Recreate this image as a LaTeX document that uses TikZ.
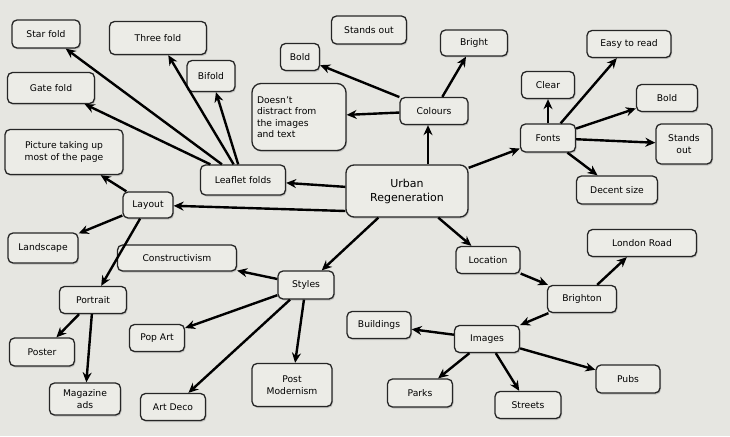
\documentclass[tikz,border=0pt]{standalone}
\usepackage{fontspec}
\setmainfont{DejaVu Sans}
\usetikzlibrary{arrows.meta,shadows}
\definecolor{bg}{HTML}{E6E6E1}
\definecolor{nf}{HTML}{ECECE7}
\begin{document}
\begin{tikzpicture}[x=1pt,y=-1pt,
 box/.style={draw=black!85,line width=1.3pt,rounded corners=5pt,fill=nf,
   drop shadow={shadow xshift=1pt,shadow yshift=-1.5pt,opacity=0.35},
   align=left,font=\fontsize{9.2}{11.5}\selectfont,inner sep=2pt},
 ar/.style={line width=2.4pt,-{Stealth[length=10pt,width=9pt]}}]
\fill[bg] (0,0) rectangle (730,436);
\useasboundingbox (0,0) rectangle (730,436);
\def\B(#1,#2,#3,#4,#5)#6{\node[box,minimum width=#4pt,minimum height=#5pt] (#1) at (#2,#3) {#6};}
\B(star,46,34,68,28){Star fold}
\B(three,158,38,97,33){Three fold}
\B(gate,51,88,87,31){Gate fold}
\B(bifold,211,76,48,31){Bifold}
\B(boldt,300,57,39,27){Bold}
\B(stands,369,30,75,28){Stands out}
\B(bright,474,43,67,26){Bright}
\node[box,minimum width=94pt,minimum height=67pt,text width=84pt,rounded corners=9pt] (dist) at (299,117) {Doesn’t\\distract from\\the images\\and text};
\B(colours,434,111,68,27){Colours}
\B(easy,629,44,84,27){Easy to read}
\B(clear,548,85,53,27){Clear}
\B(boldr,667,98,61,27){Bold}
\B(fonts,548,138,55,28){Fonts}
\node[box,minimum width=56pt,minimum height=40pt,align=center] (standr) at (684,144) {Stands\\out};
\B(decent,617,190,81,28){Decent size}
\node[box,minimum width=118pt,minimum height=45pt,align=center] (picture) at (64,152) {Picture taking up\\most of the page};
\B(leaflet,243,180,85,30){Leaflet folds}
\node[box,minimum width=122pt,minimum height=52pt,align=center,rounded corners=8pt,font=\fontsize{11}{14}\selectfont] (ur) at (407,191) {Urban\\Regeneration};
\B(layout,148,205,50,26){Layout}
\B(landscape,43,248,70,30){Landscape}
\B(constr,177,258,119,26){Constructivism}
\B(styles,306,285,56,28){Styles}
\B(location,488,260,64,27){Location}
\B(london,642,243,109,27){London Road}
\B(brighton,582,299,69,27){Brighton}
\B(portrait,93,300,67,27){Portrait}
\B(buildings,379,325,64,27){Buildings}
\B(images,487,339,65,27){Images}
\B(popart,157,338,55,27){Pop Art}
\B(poster,42,352,65,28){Poster}
\B(pubs,628,379,64,28){Pubs}
\B(parks,420,393,65,28){Parks}
\node[box,minimum width=80pt,minimum height=43pt,align=center] (postmod) at (292,385) {Post\\Modernism};
\node[box,minimum width=71pt,minimum height=32pt,align=center] (magazine) at (85,399) {Magazine\\ads};
\B(artdeco,173,407,65,27){Art Deco}
\B(streets,528,405,66,27){Streets}
\foreach \a/\b in {ur/leaflet,ur/fonts,ur/styles,ur/location,
 colours/boldt,colours/bright,colours/dist,fonts/clear,fonts/easy,fonts/boldr,fonts/standr,fonts/decent,
 leaflet/star,leaflet/three,leaflet/gate,leaflet/bifold,layout/picture,layout/landscape,layout/portrait,
 portrait/poster,portrait/magazine,styles/constr,styles/popart,styles/artdeco,styles/postmod,
 location/brighton,brighton/london,brighton/images,images/buildings,images/parks,images/streets,images/pubs}
 \draw[ar] (\a) -- (\b);
\draw[ar] (ur.south west|-0,211) -- (layout);
\draw[ar] (ur.north-|428,0) -- (colours.south-|428,0);
\end{tikzpicture}
\end{document}
